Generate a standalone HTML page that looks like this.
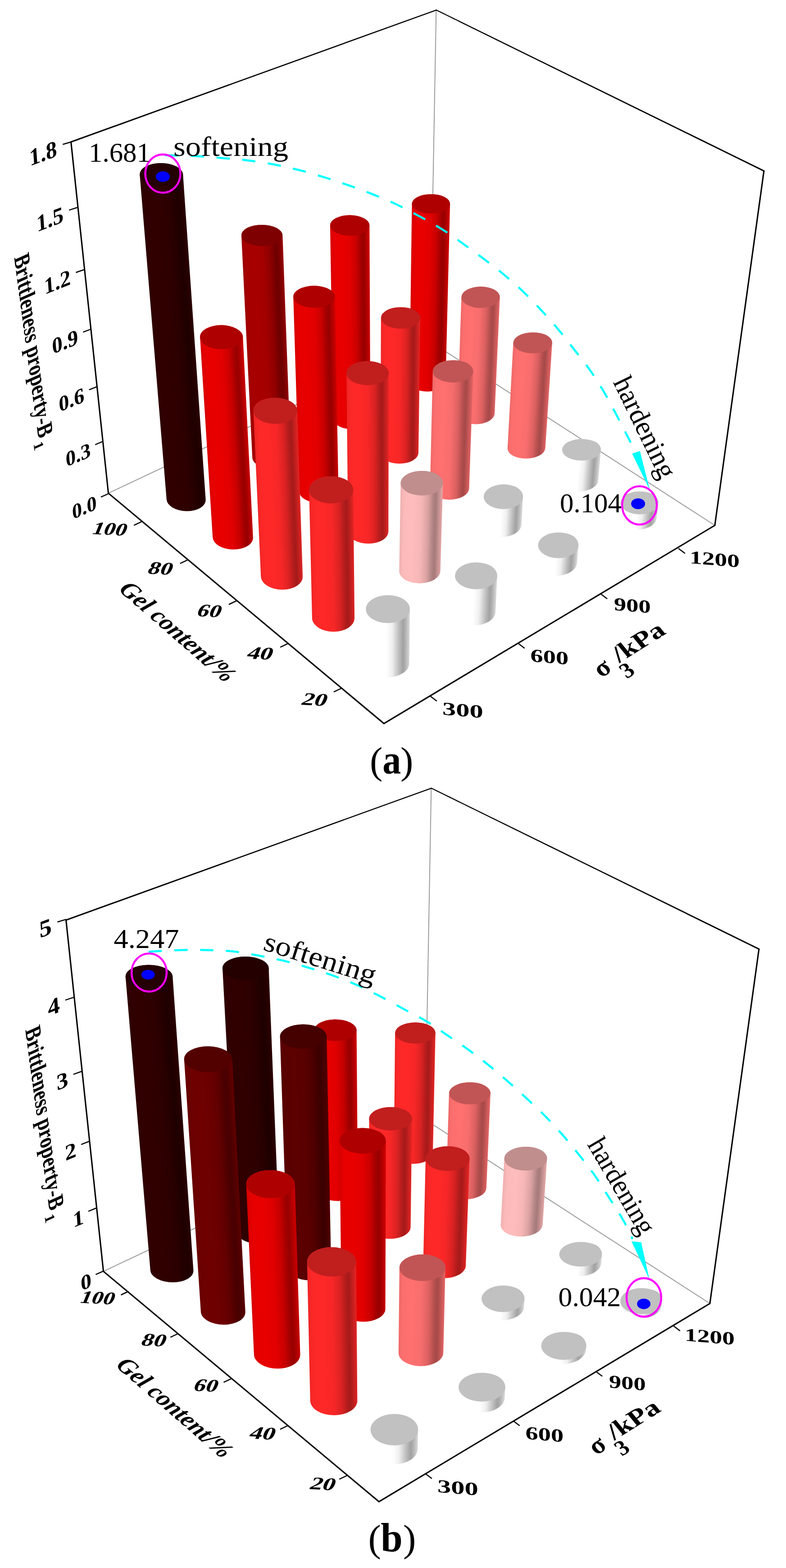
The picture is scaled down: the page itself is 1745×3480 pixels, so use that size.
<!DOCTYPE html>
<html lang="en"><head><meta charset="utf-8"><title>Brittleness property B1</title>
<style>
html,body{margin:0;padding:0;background:#fff;}
body{width:1745px;height:3480px;overflow:hidden;font-family:"Liberation Serif",serif;}
svg{display:block;filter:blur(0.7px);}
</style></head><body>
<svg width="1745" height="3480" viewBox="0 0 1745 3480" font-family="'Liberation Serif', serif" fill="#000">
<defs><linearGradient id="g_red" x1="0" y1="0" x2="1" y2="0"><stop offset="0" stop-color="#d80000"/><stop offset="0.1" stop-color="#e60000"/><stop offset="0.3" stop-color="#e80000"/><stop offset="0.5" stop-color="#e10000"/><stop offset="0.66" stop-color="#c80000"/><stop offset="0.78" stop-color="#a20000"/><stop offset="0.84" stop-color="#970000"/><stop offset="0.9" stop-color="#ac0000"/><stop offset="1" stop-color="#d10000"/></linearGradient>
<linearGradient id="g_pk" x1="0" y1="0" x2="1" y2="0"><stop offset="0" stop-color="#ed6868"/><stop offset="0.1" stop-color="#fc6f6f"/><stop offset="0.3" stop-color="#ff7070"/><stop offset="0.5" stop-color="#f76d6d"/><stop offset="0.66" stop-color="#db6060"/><stop offset="0.78" stop-color="#b24e4e"/><stop offset="0.84" stop-color="#a64949"/><stop offset="0.9" stop-color="#bd5353"/><stop offset="1" stop-color="#e66565"/></linearGradient>
<linearGradient id="g_dr" x1="0" y1="0" x2="1" y2="0"><stop offset="0" stop-color="#9c0000"/><stop offset="0.1" stop-color="#a60000"/><stop offset="0.3" stop-color="#a80000"/><stop offset="0.5" stop-color="#a30000"/><stop offset="0.66" stop-color="#900000"/><stop offset="0.78" stop-color="#760000"/><stop offset="0.84" stop-color="#6d0000"/><stop offset="0.9" stop-color="#7c0000"/><stop offset="1" stop-color="#970000"/></linearGradient>
<linearGradient id="g_lr" x1="0" y1="0" x2="1" y2="0"><stop offset="0" stop-color="#ed2525"/><stop offset="0.1" stop-color="#fc2828"/><stop offset="0.3" stop-color="#ff2828"/><stop offset="0.5" stop-color="#f72727"/><stop offset="0.66" stop-color="#db2222"/><stop offset="0.78" stop-color="#b21c1c"/><stop offset="0.84" stop-color="#a61a1a"/><stop offset="0.9" stop-color="#bd1e1e"/><stop offset="1" stop-color="#e62424"/></linearGradient>
<linearGradient id="g_wh" x1="0" y1="0" x2="1" y2="0"><stop offset="0" stop-color="#ffffff"/><stop offset="0.46" stop-color="#ffffff"/><stop offset="0.6" stop-color="#f0f0f0"/><stop offset="0.74" stop-color="#c2c2c2"/><stop offset="0.85" stop-color="#a1a1a1"/><stop offset="0.92" stop-color="#b8b8b8"/><stop offset="1" stop-color="#dbdbdb"/></linearGradient>
<linearGradient id="g_blk" x1="0" y1="0" x2="1" y2="0"><stop offset="0" stop-color="#2d0000"/><stop offset="0.1" stop-color="#300000"/><stop offset="0.3" stop-color="#300000"/><stop offset="0.5" stop-color="#2f0000"/><stop offset="0.66" stop-color="#290000"/><stop offset="0.78" stop-color="#220000"/><stop offset="0.84" stop-color="#1f0000"/><stop offset="0.9" stop-color="#240000"/><stop offset="1" stop-color="#2b0000"/></linearGradient>
<linearGradient id="g_lp" x1="0" y1="0" x2="1" y2="0"><stop offset="0" stop-color="#edafaf"/><stop offset="0.1" stop-color="#fcbaba"/><stop offset="0.3" stop-color="#ffbcbc"/><stop offset="0.5" stop-color="#f7b6b6"/><stop offset="0.66" stop-color="#dba2a2"/><stop offset="0.78" stop-color="#b28484"/><stop offset="0.84" stop-color="#a67a7a"/><stop offset="0.9" stop-color="#bd8b8b"/><stop offset="1" stop-color="#e6a9a9"/></linearGradient>
<linearGradient id="g_dk2" x1="0" y1="0" x2="1" y2="0"><stop offset="0" stop-color="#560000"/><stop offset="0.1" stop-color="#5b0000"/><stop offset="0.3" stop-color="#5c0000"/><stop offset="0.5" stop-color="#590000"/><stop offset="0.66" stop-color="#4f0000"/><stop offset="0.78" stop-color="#400000"/><stop offset="0.84" stop-color="#3c0000"/><stop offset="0.9" stop-color="#440000"/><stop offset="1" stop-color="#530000"/></linearGradient>
<linearGradient id="g_dk1" x1="0" y1="0" x2="1" y2="0"><stop offset="0" stop-color="#660000"/><stop offset="0.1" stop-color="#6d0000"/><stop offset="0.3" stop-color="#6e0000"/><stop offset="0.5" stop-color="#6b0000"/><stop offset="0.66" stop-color="#5f0000"/><stop offset="0.78" stop-color="#4d0000"/><stop offset="0.84" stop-color="#480000"/><stop offset="0.9" stop-color="#510000"/><stop offset="1" stop-color="#630000"/></linearGradient></defs>
<line x1="968.4" y1="22.3" x2="955.0" y2="758.0" stroke="#969696" stroke-width="1.9" stroke-linecap="butt"/>
<line x1="240.6" y1="1094.6" x2="955.0" y2="758.0" stroke="#969696" stroke-width="1.9" stroke-linecap="butt"/>
<line x1="955.0" y1="758.0" x2="1587.0" y2="1166.0" stroke="#969696" stroke-width="1.9" stroke-linecap="butt"/>
<path transform="matrix(1 0 -0.01931 1 8.74 0)" d="M914.5 452.5 L916.7 847.4 A40.1 21.6 0 0 0 996.9 847.4 L999.1 452.5 A42.3 21.6 0 0 0 914.5 452.5 Z" fill="url(#g_red)"/>
<ellipse cx="956.8" cy="452.5" rx="42.3" ry="21.6" fill="#af0000"/>
<path transform="matrix(1 0 0.01057 1 -5.29 0)" d="M732.9 500.3 L735.4 929.8 A41.2 22.8 0 0 0 817.8 929.8 L820.3 500.3 A43.7 22.8 0 0 0 732.9 500.3 Z" fill="url(#g_red)"/>
<ellipse cx="776.6" cy="500.3" rx="43.7" ry="22.8" fill="#af0000"/>
<path transform="matrix(1 0 -0.03887 1 25.65 0)" d="M1024.3 659.8 L1025.8 917.8 A41.2 23.7 0 0 0 1108.2 917.8 L1109.7 659.8 A42.7 23.7 0 0 0 1024.3 659.8 Z" fill="url(#g_pk)"/>
<ellipse cx="1067.0" cy="659.8" rx="42.7" ry="23.7" fill="#c15555"/>
<path transform="matrix(1 0 0.04323 1 -22.59 0)" d="M535.9 522.6 L538.9 1016.3 A42.7 23.7 0 0 0 624.3 1016.3 L627.3 522.6 A45.7 23.7 0 0 0 535.9 522.6 Z" fill="url(#g_dr)"/>
<ellipse cx="581.6" cy="522.6" rx="45.7" ry="23.7" fill="#7f0000"/>
<path transform="matrix(1 0 -0.05971 1 45.44 0)" d="M1139.5 761.0 L1140.8 994.6 A41.9 23.2 0 0 0 1224.6 994.6 L1225.9 761.0 A43.2 23.2 0 0 0 1139.5 761.0 Z" fill="url(#g_pk)"/>
<ellipse cx="1182.7" cy="761.0" rx="43.2" ry="23.2" fill="#c15555"/>
<path transform="matrix(1 0 -0.00854 1 6.03 0)" d="M845.8 705.6 L847.5 1005.1 A42.0 23.9 0 0 0 931.5 1005.1 L933.2 705.6 A43.7 23.9 0 0 0 845.8 705.6 Z" fill="url(#g_lr)"/>
<ellipse cx="889.5" cy="705.6" rx="43.7" ry="23.9" fill="#c11e1e"/>
<path transform="matrix(1 0 -0.08197 1 81.84 0)" d="M1248.0 998.3 L1248.4 1067.0 A42.6 24.0 0 0 0 1333.6 1067.0 L1334.0 998.3 A43.0 24.0 0 0 0 1248.0 998.3 Z" fill="url(#g_wh)"/>
<ellipse cx="1291.0" cy="998.3" rx="43.0" ry="24.0" fill="#c1c1c1"/>
<path transform="matrix(1 0 0.02441 1 -16.08 0)" d="M651.2 658.7 L653.9 1091.6 A43.5 24.4 0 0 0 740.9 1091.6 L743.6 658.7 A46.2 24.4 0 0 0 651.2 658.7 Z" fill="url(#g_red)"/>
<ellipse cx="697.4" cy="658.7" rx="46.2" ry="24.4" fill="#af0000"/>
<path transform="matrix(1 0 -0.02919 1 24.06 0)" d="M960.7 824.2 L962.3 1084.2 A43.4 24.8 0 0 0 1049.1 1084.2 L1050.7 824.2 A45.0 24.8 0 0 0 960.7 824.2 Z" fill="url(#g_pk)"/>
<ellipse cx="1005.7" cy="824.2" rx="45.0" ry="24.8" fill="#c15555"/>
<path transform="matrix(1 0 0.07620 1 -29.56 0)" d="M310.3 388.0 L314.9 1108.5 A43.4 26.0 0 0 0 401.7 1108.5 L406.3 388.0 A48.0 26.0 0 0 0 310.3 388.0 Z" fill="url(#g_blk)"/>
<ellipse cx="358.3" cy="388.0" rx="48.0" ry="26.0" fill="#240000"/>
<path transform="matrix(1 0 -0.10767 1 120.16 0)" d="M1377.7 1116.0 L1377.9 1150.5 A41.8 25.5 0 0 0 1461.5 1150.5 L1461.7 1116.0 A42.0 25.5 0 0 0 1377.7 1116.0 Z" fill="url(#g_wh)"/>
<ellipse cx="1419.7" cy="1116.0" rx="42.0" ry="25.5" fill="#c1c1c1"/>
<path transform="matrix(1 0 0.00421 1 -3.49 0)" d="M769.2 828.2 L771.4 1179.8 A44.7 26.7 0 0 0 860.8 1179.8 L863.0 828.2 A46.9 26.7 0 0 0 769.2 828.2 Z" fill="url(#g_lr)"/>
<ellipse cx="816.1" cy="828.2" rx="46.9" ry="26.7" fill="#c11e1e"/>
<path transform="matrix(1 0 -0.05141 1 56.68 0)" d="M1073.8 1102.5 L1074.2 1164.6 A43.3 27.4 0 0 0 1160.8 1164.6 L1161.2 1102.5 A43.7 27.4 0 0 0 1073.8 1102.5 Z" fill="url(#g_wh)"/>
<ellipse cx="1117.5" cy="1102.5" rx="43.7" ry="27.4" fill="#c1c1c1"/>
<path transform="matrix(1 0 0.05692 1 -42.59 0)" d="M444.1 748.3 L446.9 1192.8 A44.8 26.7 0 0 0 536.5 1192.8 L539.3 748.3 A47.6 26.7 0 0 0 444.1 748.3 Z" fill="url(#g_red)"/>
<ellipse cx="491.7" cy="748.3" rx="47.6" ry="26.7" fill="#af0000"/>
<path transform="matrix(1 0 -0.02256 1 24.20 0)" d="M889.5 1072.3 L890.7 1267.3 A45.7 27.4 0 0 0 982.1 1267.3 L983.3 1072.3 A46.9 27.4 0 0 0 889.5 1072.3 Z" fill="url(#g_lp)"/>
<ellipse cx="936.4" cy="1072.3" rx="46.9" ry="27.4" fill="#c18e8e"/>
<path transform="matrix(1 0 -0.07550 1 91.37 0)" d="M1194.6 1210.2 L1194.8 1249.5 A44.6 28.5 0 0 0 1284.0 1249.5 L1284.2 1210.2 A44.8 28.5 0 0 0 1194.6 1210.2 Z" fill="url(#g_wh)"/>
<ellipse cx="1239.4" cy="1210.2" rx="44.8" ry="28.5" fill="#c1c1c1"/>
<path transform="matrix(1 0 0.03887 1 -35.44 0)" d="M562.5 911.8 L564.9 1279.7 A46.4 29.0 0 0 0 657.7 1279.7 L660.1 911.8 A48.8 29.0 0 0 0 562.5 911.8 Z" fill="url(#g_lr)"/>
<ellipse cx="611.3" cy="911.8" rx="48.8" ry="29.0" fill="#c11e1e"/>
<path transform="matrix(1 0 -0.04155 1 53.11 0)" d="M1010.1 1278.0 L1010.6 1358.3 A46.4 29.7 0 0 0 1103.4 1358.3 L1103.9 1278.0 A46.9 29.7 0 0 0 1010.1 1278.0 Z" fill="url(#g_wh)"/>
<ellipse cx="1057.0" cy="1278.0" rx="46.9" ry="29.7" fill="#c1c1c1"/>
<path transform="matrix(1 0 0.01687 1 -18.34 0)" d="M686.2 1087.2 L688.1 1371.8 A47.1 30.2 0 0 0 782.3 1371.8 L784.2 1087.2 A49.0 30.2 0 0 0 686.2 1087.2 Z" fill="url(#g_lr)"/>
<ellipse cx="735.2" cy="1087.2" rx="49.0" ry="30.2" fill="#c11e1e"/>
<path transform="matrix(1 0 -0.00410 1 5.54 0)" d="M812.3 1351.9 L813.1 1472.1 A48.0 30.9 0 0 0 909.1 1472.1 L909.9 1351.9 A48.8 30.9 0 0 0 812.3 1351.9 Z" fill="url(#g_wh)"/>
<ellipse cx="861.1" cy="1351.9" rx="48.8" ry="30.9" fill="#c1c1c1"/>
<polygon points="158.13,316.46 968.99,23.38 968.21,21.22 157.07,313.54" fill="#000"/>
<circle cx="968.60" cy="22.30" r="1.15" fill="#000"/>
<polygon points="968.09,23.33 1695.32,380.69 1696.68,377.91 969.11,21.27" fill="#000"/>
<circle cx="1696.00" cy="379.30" r="1.55" fill="#000"/>
<polygon points="1694.46,379.09 1585.46,1165.79 1588.54,1166.21 1697.54,379.51" fill="#000"/>
<circle cx="1587.00" cy="1166.00" r="1.55" fill="#000"/>
<polygon points="1586.20,1164.67 851.48,1604.43 853.12,1607.17 1587.80,1167.33" fill="#000"/>
<circle cx="852.30" cy="1605.80" r="1.60" fill="#000"/>
<polygon points="853.33,1604.57 241.59,1093.41 239.61,1095.79 851.27,1607.03" fill="#000"/>
<circle cx="240.60" cy="1094.60" r="1.55" fill="#000"/>
<polygon points="242.14,1094.44 159.14,314.84 156.06,315.16 239.06,1094.76" fill="#000"/>
<circle cx="157.60" cy="315.00" r="1.55" fill="#000"/>
<line x1="158.8" y1="314.7" x2="139.3" y2="320.5" stroke="#000" stroke-width="2.5" stroke-linecap="butt"/>
<text transform="matrix(0.9367 -0.3502 0.0700 1.0000 66.4 368.8)" font-size="52" font-weight="bold" font-style="normal" text-anchor="start" textLength="65" lengthAdjust="spacingAndGlyphs">1.8</text>
<line x1="172.4" y1="460.2" x2="153.3" y2="466.4" stroke="#000" stroke-width="2.5" stroke-linecap="butt"/>
<text transform="matrix(0.9332 -0.3593 0.0700 1.0000 82.2 515.0)" font-size="50.8818" font-weight="bold" font-style="normal" text-anchor="start" textLength="64" lengthAdjust="spacingAndGlyphs">1.5</text>
<line x1="187.3" y1="598.3" x2="168.5" y2="604.8" stroke="#000" stroke-width="2.5" stroke-linecap="butt"/>
<text transform="matrix(0.9298 -0.3680 0.0700 1.0000 99.2 653.8)" font-size="49.8204" font-weight="bold" font-style="normal" text-anchor="start" textLength="63" lengthAdjust="spacingAndGlyphs">1.2</text>
<line x1="202.8" y1="730.2" x2="184.4" y2="737.1" stroke="#000" stroke-width="2.5" stroke-linecap="butt"/>
<text transform="matrix(0.9266 -0.3762 0.0700 1.0000 116.7 786.3)" font-size="48.8067" font-weight="bold" font-style="normal" text-anchor="start" textLength="62" lengthAdjust="spacingAndGlyphs">0.9</text>
<line x1="215.8" y1="858.0" x2="197.7" y2="865.2" stroke="#000" stroke-width="2.5" stroke-linecap="butt"/>
<text transform="matrix(0.9233 -0.3841 0.0700 1.0000 131.7 914.7)" font-size="47.8245" font-weight="bold" font-style="normal" text-anchor="start" textLength="61" lengthAdjust="spacingAndGlyphs">0.6</text>
<line x1="229.1" y1="979.4" x2="211.3" y2="986.9" stroke="#000" stroke-width="2.5" stroke-linecap="butt"/>
<text transform="matrix(0.9201 -0.3916 0.0700 1.0000 147.0 1036.6)" font-size="46.8915" font-weight="bold" font-style="normal" text-anchor="start" textLength="60" lengthAdjust="spacingAndGlyphs">0.3</text>
<line x1="241.5" y1="1095.4" x2="224.0" y2="1103.2" stroke="#000" stroke-width="2.5" stroke-linecap="butt"/>
<text transform="matrix(0.9171 -0.3987 0.0700 1.0000 161.3 1153.0)" font-size="46" font-weight="bold" font-style="normal" text-anchor="start" textLength="59" lengthAdjust="spacingAndGlyphs">0.0</text>
<line x1="314.2" y1="1157.9" x2="297.2" y2="1165.9" stroke="#000" stroke-width="2.5" stroke-linecap="butt"/>
<line x1="416.7" y1="1242.6" x2="399.7" y2="1250.6" stroke="#000" stroke-width="2.5" stroke-linecap="butt"/>
<line x1="525.0" y1="1333.5" x2="508.0" y2="1341.5" stroke="#000" stroke-width="2.5" stroke-linecap="butt"/>
<line x1="639.2" y1="1428.3" x2="622.2" y2="1436.3" stroke="#000" stroke-width="2.5" stroke-linecap="butt"/>
<line x1="757.9" y1="1527.6" x2="740.9" y2="1535.6" stroke="#000" stroke-width="2.5" stroke-linecap="butt"/>
<text transform="matrix(0.9986 0.0523 -0.4019 0.9803 201.5 1185.0)" font-size="40" font-weight="bold" font-style="normal" text-anchor="start" textLength="76" lengthAdjust="spacingAndGlyphs">100</text>
<text transform="matrix(0.9986 0.0523 -0.4019 0.9803 325.0 1273.0)" font-size="40" font-weight="bold" font-style="normal" text-anchor="start" textLength="54" lengthAdjust="spacingAndGlyphs">80</text>
<text transform="matrix(0.9986 0.0523 -0.4019 0.9803 434.3 1367.3)" font-size="40" font-weight="bold" font-style="normal" text-anchor="start" textLength="53" lengthAdjust="spacingAndGlyphs">60</text>
<text transform="matrix(0.9986 0.0523 -0.4019 0.9803 545.4 1461.4)" font-size="40" font-weight="bold" font-style="normal" text-anchor="start" textLength="56" lengthAdjust="spacingAndGlyphs">40</text>
<text transform="matrix(0.9986 0.0523 -0.4019 0.9803 666.0 1564.0)" font-size="40" font-weight="bold" font-style="normal" text-anchor="start" textLength="56" lengthAdjust="spacingAndGlyphs">20</text>
<line x1="955.3" y1="1545.0" x2="969.8" y2="1556.0" stroke="#000" stroke-width="2.5" stroke-linecap="butt"/>
<line x1="1150.2" y1="1427.7" x2="1164.7" y2="1438.7" stroke="#000" stroke-width="2.5" stroke-linecap="butt"/>
<line x1="1333.6" y1="1318.1" x2="1348.1" y2="1329.1" stroke="#000" stroke-width="2.5" stroke-linecap="butt"/>
<line x1="1506.3" y1="1217.3" x2="1520.8" y2="1228.3" stroke="#000" stroke-width="2.5" stroke-linecap="butt"/>
<text transform="matrix(0.9965 0.0830 0.0000 1.0000 982.0 1586.0)" font-size="41" font-weight="bold" font-style="normal" text-anchor="start" textLength="91" lengthAdjust="spacingAndGlyphs">300</text>
<text transform="matrix(0.9965 0.0830 0.0000 1.0000 1177.5 1468.0)" font-size="41" font-weight="bold" font-style="normal" text-anchor="start" textLength="85" lengthAdjust="spacingAndGlyphs">600</text>
<text transform="matrix(0.9965 0.0830 0.0000 1.0000 1363.0 1354.0)" font-size="41" font-weight="bold" font-style="normal" text-anchor="start" textLength="82" lengthAdjust="spacingAndGlyphs">900</text>
<text transform="matrix(0.9965 0.0830 0.0000 1.0000 1531.0 1250.0)" font-size="41" font-weight="bold" font-style="normal" text-anchor="start" textLength="111.5" lengthAdjust="spacingAndGlyphs">1200</text>
<text transform="matrix(0.1322 0.9912 -0.8900 0.3970 31.6 572.2)" font-weight="bold" font-style="normal"><tspan x="0.0" y="0.0" font-size="55" textLength="407" lengthAdjust="spacingAndGlyphs">Brittleness property-B</tspan><tspan x="411.8" y="13.0" font-size="34">1</tspan></text>
<text transform="matrix(0.7270 0.6310 -0.7500 0.6100 261.5 1309.5)" font-size="56" font-weight="bold" font-style="italic" text-anchor="start" textLength="328" lengthAdjust="spacingAndGlyphs">Gel content/%</text>
<text transform="matrix(0.8480 -0.5300 0.6400 0.7800 1375.0 1471.5)" font-weight="bold" font-style="normal"><tspan x="-52.6" y="7.2" font-size="58">σ</tspan><tspan x="-9.9" y="38.9" font-size="50">3</tspan><tspan x="0.0" y="0.0" font-size="54" textLength="125" lengthAdjust="spacingAndGlyphs">/kPa</tspan></text>
<polyline points="366.5,344.8 367.1,344.8 367.6,344.8 368.1,344.8 368.6,344.8 369.3,344.8 370.1,344.8 371.1,344.8 372.4,344.8 374.0,344.8 375.9,344.9 378.2,344.9 381.0,345.0 384.3,345.1 388.2,345.2 392.5,345.2 397.1,345.3 402.1,345.4 407.3,345.5 412.7,345.7 418.1,345.8 423.6,346.0 428.9,346.2 434.1,346.4 439.0,346.6 443.8,346.9 448.6,347.2 453.4,347.5 458.2,347.8 463.0,348.2 467.8,348.6 472.5,349.0 477.3,349.4 482.0,349.8 486.7,350.2 491.4,350.6 496.0,351.0 500.6,351.4 505.1,351.8 509.6,352.1 514.1,352.5 518.5,352.8 522.9,353.2 527.4,353.6 531.8,354.0 536.3,354.5 540.8,354.9 545.4,355.4 550.0,356.0 554.7,356.6 559.4,357.2 564.2,357.9 569.1,358.6 573.9,359.3 578.8,360.0 583.7,360.8 588.6,361.6 593.5,362.4 598.3,363.2 603.2,364.1 608.0,365.0 612.8,365.9 617.6,366.9 622.4,367.8 627.1,368.8 631.9,369.9 636.7,370.9 641.4,372.0 646.2,373.1 650.9,374.2 655.6,375.4 660.3,376.5 665.0,377.7 669.7,378.9 674.3,380.1 678.9,381.4 683.4,382.6 688.0,383.9 692.6,385.2 697.1,386.6 701.7,387.9 706.2,389.3 710.8,390.7 715.4,392.1 720.0,393.5 724.6,394.9 729.3,396.4 734.0,397.9 738.6,399.4 743.3,400.9 748.0,402.5 752.7,404.0 757.4,405.6 762.1,407.2 766.7,408.8 771.4,410.4 776.0,412.0 780.6,413.6 785.2,415.3 789.8,416.9 794.5,418.6 799.1,420.3 803.6,422.0 808.2,423.8 812.8,425.5 817.3,427.2 821.8,429.0 826.3,430.7 830.7,432.5 835.1,434.3 839.5,436.0 843.8,437.8 848.1,439.6 852.3,441.3 856.6,443.1 860.8,444.9 865.0,446.8 869.3,448.6 873.5,450.6 877.7,452.5 882.0,454.5 886.3,456.5 890.5,458.6 894.8,460.7 899.0,462.9 903.3,465.1 907.5,467.3 911.8,469.5 916.0,471.8 920.3,474.1 924.5,476.4 928.8,478.7 933.0,481.0 937.3,483.3 941.5,485.7 945.8,488.1 950.1,490.5 954.5,492.9 958.8,495.4 963.0,497.8 967.3,500.3 971.5,502.8 975.7,505.4 979.9,507.9 984.0,510.5 988.1,513.1 992.1,515.7 996.1,518.4 1000.0,521.1 1003.9,523.8 1007.8,526.5 1011.7,529.2 1015.6,532.0 1019.4,534.7 1023.3,537.5 1027.1,540.2 1031.0,543.0 1034.9,545.8 1038.7,548.5 1042.6,551.3 1046.4,554.1 1050.2,556.9 1054.0,559.7 1057.8,562.5 1061.6,565.3 1065.4,568.1 1069.1,570.9 1072.9,573.7 1076.6,576.5 1080.3,579.3 1084.0,582.1 1087.6,584.9 1091.3,587.7 1094.9,590.5 1098.5,593.3 1102.1,596.1 1105.7,598.9 1109.3,601.8 1112.9,604.6 1116.4,607.6 1120.0,610.5 1123.6,613.5 1127.1,616.5 1130.6,619.5 1134.2,622.5 1137.7,625.5 1141.2,628.6 1144.7,631.7 1148.1,634.8 1151.6,638.0 1155.1,641.2 1158.5,644.4 1162.0,647.7 1165.4,651.0 1168.9,654.4 1172.4,657.8 1175.8,661.3 1179.2,664.8 1182.7,668.4 1186.1,671.9 1189.5,675.5 1192.8,679.0 1196.2,682.6 1199.4,686.1 1202.7,689.6 1205.9,693.1 1209.1,696.5 1212.2,700.0 1215.4,703.5 1218.4,706.9 1221.5,710.4 1224.6,713.8 1227.6,717.3 1230.6,720.8 1233.6,724.3 1236.6,727.8 1239.6,731.4 1242.6,735.0 1245.5,738.6 1248.5,742.2 1251.4,745.9 1254.3,749.5 1257.2,753.2 1260.1,756.9 1262.9,760.6 1265.8,764.3 1268.7,768.0 1271.6,771.8 1274.5,775.5 1277.4,779.2 1280.4,783.0 1283.4,786.8 1286.3,790.5 1289.3,794.3 1292.3,798.1 1295.3,801.9 1298.2,805.7 1301.1,809.5 1304.0,813.3 1306.8,817.2 1309.5,821.0 1312.2,824.8 1314.8,828.7 1317.4,832.5 1320.0,836.3 1322.5,840.2 1325.0,844.0 1327.5,847.9 1329.9,851.7 1332.3,855.6 1334.7,859.6 1337.1,863.5 1339.5,867.5 1341.9,871.5 1344.2,875.6 1346.5,879.7 1348.8,883.8 1351.1,887.9 1353.3,892.1 1355.6,896.2 1357.8,900.4 1360.0,904.5 1362.2,908.7 1364.4,912.9 1366.6,917.0 1368.8,921.2 1371.2,925.7 1373.5,930.2 1375.9,934.8 1378.3,939.4 1380.7,943.9 1382.9,948.4 1385.1,952.6 1387.2,956.6 1389.1,960.3 1390.8,963.7 1392.3,966.6 1393.6,969.1 1394.7,971.3 1395.7,973.2 1396.5,974.8 1397.2,976.2 1397.8,977.4 1398.2,978.4 1398.7,979.3 1399.0,980.0 1399.4,980.7 1399.7,981.4 1400.0,982.0" fill="none" stroke="#00ffff" stroke-width="4.6" stroke-dasharray="29.5 27.7" stroke-dashoffset="0"/>
<polygon points="1403.3,1006.7 1420.7,1000.9 1442.8,1088" fill="#00ffff"/>
<ellipse cx="361.5" cy="385.3" rx="39" ry="42.5" fill="none" stroke="#ff00ff" stroke-width="4.4"/>
<ellipse cx="361.6" cy="392" rx="15.5" ry="11.8" fill="#0000ff"/>
<ellipse cx="1419.7" cy="1121.6" rx="38.5" ry="42.5" fill="none" stroke="#ff00ff" stroke-width="4.4"/>
<ellipse cx="1416.7" cy="1118" rx="15.5" ry="12" fill="#0000ff"/>
<text transform="matrix(1.0000 0.0000 0.0000 1.0000 197.0 358.5)" font-size="62" font-weight="normal" font-style="normal" text-anchor="start" textLength="137" lengthAdjust="spacingAndGlyphs">1.681</text>
<text transform="matrix(1.0000 0.0000 0.0000 1.0000 385.0 345.5)" font-size="62" font-weight="normal" font-style="normal" text-anchor="start" textLength="255" lengthAdjust="spacingAndGlyphs">softening</text>
<text transform="matrix(1.0000 0.0000 0.0000 1.0000 1243.0 1137.0)" font-size="62" font-weight="normal" font-style="normal" text-anchor="start" textLength="137" lengthAdjust="spacingAndGlyphs">0.104</text>
<text transform="matrix(0.4384 0.8988 -0.8988 0.4384 1360.4 848.0)" font-size="62" font-weight="normal" font-style="normal" text-anchor="start" textLength="243" lengthAdjust="spacingAndGlyphs">hardening</text>
<text transform="matrix(1.0000 0.0000 0.0000 1.0000 0.0 0.0)" font-weight="normal" font-style="normal"><tspan x="821.0" y="1717.0" font-size="85.3" font-weight="normal">(</tspan><tspan x="849.2" y="1717.4" font-size="91" font-weight="bold" textLength="41" lengthAdjust="spacingAndGlyphs">a</tspan><tspan x="889.0" y="1717.0" font-size="85.3" font-weight="normal">)</tspan></text>
<line x1="957.4" y1="1749.3" x2="944.0" y2="2485.0" stroke="#969696" stroke-width="1.9" stroke-linecap="butt"/>
<line x1="229.6" y1="2821.6" x2="944.0" y2="2485.0" stroke="#969696" stroke-width="1.9" stroke-linecap="butt"/>
<line x1="944.0" y1="2485.0" x2="1576.0" y2="2893.0" stroke="#969696" stroke-width="1.9" stroke-linecap="butt"/>
<path transform="matrix(1 0 -0.01565 1 35.89 0)" d="M877.1 2292.7 L878.7 2559.5 A43.2 23.5 0 0 0 965.1 2559.5 L966.7 2292.7 A44.8 23.5 0 0 0 877.1 2292.7 Z" fill="url(#g_lr)"/>
<ellipse cx="921.9" cy="2292.7" rx="44.8" ry="23.5" fill="#c11e1e"/>
<path transform="matrix(1 0 0.01421 1 -32.49 0)" d="M697.6 2286.5 L699.8 2641.6 A44.8 24.0 0 0 0 789.4 2641.6 L791.6 2286.5 A47.0 24.0 0 0 0 697.6 2286.5 Z" fill="url(#g_red)"/>
<ellipse cx="744.6" cy="2286.5" rx="47.0" ry="24.0" fill="#af0000"/>
<path transform="matrix(1 0 -0.03688 1 89.48 0)" d="M996.9 2426.5 L998.2 2637.0 A44.7 24.5 0 0 0 1087.6 2637.0 L1088.9 2426.5 A46.0 24.5 0 0 0 996.9 2426.5 Z" fill="url(#g_pk)"/>
<ellipse cx="1042.9" cy="2426.5" rx="46.0" ry="24.5" fill="#c15555"/>
<path transform="matrix(1 0 0.04668 1 -100.31 0)" d="M494.0 2149.0 L498.0 2734.0 A47.3 26.0 0 0 0 592.6 2734.0 L596.6 2149.0 A51.3 26.0 0 0 0 494.0 2149.0 Z" fill="url(#g_blk)"/>
<ellipse cx="545.3" cy="2149.0" rx="51.3" ry="26.0" fill="#240000"/>
<path transform="matrix(1 0 -0.05976 1 153.69 0)" d="M1119.6 2571.5 L1120.5 2718.1 A46.5 26.5 0 0 0 1213.5 2718.1 L1214.4 2571.5 A47.4 26.5 0 0 0 1119.6 2571.5 Z" fill="url(#g_lp)"/>
<ellipse cx="1167.0" cy="2571.5" rx="47.4" ry="26.5" fill="#c18e8e"/>
<path transform="matrix(1 0 -0.00663 1 16.47 0)" d="M819.5 2483.0 L821.0 2723.5 A46.1 26.0 0 0 0 913.2 2723.5 L914.7 2483.0 A47.6 26.0 0 0 0 819.5 2483.0 Z" fill="url(#g_lr)"/>
<ellipse cx="867.1" cy="2483.0" rx="47.6" ry="26.0" fill="#c11e1e"/>
<path transform="matrix(1 0 -0.08451 1 235.24 0)" d="M1241.6 2783.7 L1241.7 2805.1 A47.3 27.4 0 0 0 1336.3 2805.1 L1336.4 2783.7 A47.4 27.4 0 0 0 1241.6 2783.7 Z" fill="url(#g_wh)"/>
<ellipse cx="1289.0" cy="2783.7" rx="47.4" ry="27.4" fill="#c1c1c1"/>
<path transform="matrix(1 0 0.02624 1 -60.36 0)" d="M621.7 2300.5 L625.3 2814.5 A48.2 27.0 0 0 0 721.7 2814.5 L725.3 2300.5 A51.8 27.0 0 0 0 621.7 2300.5 Z" fill="url(#g_dk2)"/>
<ellipse cx="673.5" cy="2300.5" rx="51.8" ry="27.0" fill="#450000"/>
<path transform="matrix(1 0 -0.02912 1 74.88 0)" d="M944.9 2571.4 L946.4 2809.3 A47.3 27.5 0 0 0 1041.0 2809.3 L1042.5 2571.4 A48.8 27.5 0 0 0 944.9 2571.4 Z" fill="url(#g_lr)"/>
<ellipse cx="993.7" cy="2571.4" rx="48.8" ry="27.5" fill="#c11e1e"/>
<path transform="matrix(1 0 0.07767 1 -168.38 0)" d="M278.7 2168.0 L283.2 2819.5 A47.8 26.5 0 0 0 378.8 2819.5 L383.3 2168.0 A52.3 26.5 0 0 0 278.7 2168.0 Z" fill="url(#g_blk)"/>
<ellipse cx="331.0" cy="2168.0" rx="52.3" ry="26.5" fill="#240000"/>
<path transform="matrix(1 0 -0.11136 1 321.60 0)" d="M1377.2 2887.8 L1377.3 2898.0 A46.3 29.0 0 0 0 1469.9 2898.0 L1470.0 2887.8 A46.4 29.0 0 0 0 1377.2 2887.8 Z" fill="url(#g_wh)"/>
<ellipse cx="1423.6" cy="2887.8" rx="46.4" ry="29.0" fill="#c1c1c1"/>
<path transform="matrix(1 0 0.00416 1 -10.54 0)" d="M754.0 2532.0 L756.6 2904.9 A48.7 28.5 0 0 0 854.0 2904.9 L856.6 2532.0 A51.3 28.5 0 0 0 754.0 2532.0 Z" fill="url(#g_red)"/>
<ellipse cx="805.3" cy="2532.0" rx="51.3" ry="28.5" fill="#af0000"/>
<path transform="matrix(1 0 -0.05385 1 155.22 0)" d="M1069.2 2882.5 L1069.3 2901.0 A47.5 29.5 0 0 0 1164.3 2901.0 L1164.4 2882.5 A47.6 29.5 0 0 0 1069.2 2882.5 Z" fill="url(#g_wh)"/>
<ellipse cx="1116.8" cy="2882.5" rx="47.6" ry="29.5" fill="#c1c1c1"/>
<path transform="matrix(1 0 0.05903 1 -138.78 0)" d="M408.8 2350.8 L412.8 2911.5 A49.4 28.5 0 0 0 511.6 2911.5 L515.6 2350.8 A53.4 28.5 0 0 0 408.8 2350.8 Z" fill="url(#g_dk1)"/>
<ellipse cx="462.2" cy="2350.8" rx="53.4" ry="28.5" fill="#530000"/>
<path transform="matrix(1 0 -0.01747 1 49.15 0)" d="M886.8 2813.6 L888.1 3002.5 A49.7 29.5 0 0 0 987.5 3002.5 L988.8 2813.6 A51.0 29.5 0 0 0 886.8 2813.6 Z" fill="url(#g_pk)"/>
<ellipse cx="937.8" cy="2813.6" rx="51.0" ry="29.5" fill="#c15555"/>
<path transform="matrix(1 0 -0.08065 1 240.90 0)" d="M1201.6 2987.0 L1201.7 2996.5 A49.9 31.0 0 0 0 1301.5 2996.5 L1301.6 2987.0 A50.0 31.0 0 0 0 1201.6 2987.0 Z" fill="url(#g_wh)"/>
<ellipse cx="1251.6" cy="2987.0" rx="50.0" ry="31.0" fill="#c1c1c1"/>
<path transform="matrix(1 0 0.03857 1 -101.37 0)" d="M546.6 2628.0 L549.3 3006.5 A51.3 31.0 0 0 0 651.9 3006.5 L654.6 2628.0 A54.0 31.0 0 0 0 546.6 2628.0 Z" fill="url(#g_red)"/>
<ellipse cx="600.6" cy="2628.0" rx="54.0" ry="31.0" fill="#af0000"/>
<path transform="matrix(1 0 -0.04679 1 144.07 0)" d="M1018.1 3078.8 L1018.3 3103.0 A51.6 32.0 0 0 0 1121.5 3103.0 L1121.7 3078.8 A51.8 32.0 0 0 0 1018.1 3078.8 Z" fill="url(#g_wh)"/>
<ellipse cx="1069.9" cy="3078.8" rx="51.8" ry="32.0" fill="#c1c1c1"/>
<path transform="matrix(1 0 0.01559 1 -43.66 0)" d="M681.7 2800.6 L683.9 3108.5 A52.3 32.5 0 0 0 788.5 3108.5 L790.7 2800.6 A54.5 32.5 0 0 0 681.7 2800.6 Z" fill="url(#g_lr)"/>
<ellipse cx="736.2" cy="2800.6" rx="54.5" ry="32.5" fill="#c11e1e"/>
<path transform="matrix(1 0 -0.00918 1 29.13 0)" d="M822.6 3173.0 L822.9 3215.0 A52.5 35.0 0 0 0 927.9 3215.0 L928.2 3173.0 A52.8 35.0 0 0 0 822.6 3173.0 Z" fill="url(#g_wh)"/>
<ellipse cx="875.4" cy="3173.0" rx="52.8" ry="35.0" fill="#c1c1c1"/>
<polygon points="147.13,2043.46 957.99,1750.38 957.21,1748.22 146.07,2040.54" fill="#000"/>
<circle cx="957.60" cy="1749.30" r="1.15" fill="#000"/>
<polygon points="957.09,1750.33 1684.32,2107.69 1685.68,2104.91 958.11,1748.27" fill="#000"/>
<circle cx="1685.00" cy="2106.30" r="1.55" fill="#000"/>
<polygon points="1683.46,2106.09 1574.46,2892.79 1577.54,2893.21 1686.54,2106.51" fill="#000"/>
<circle cx="1576.00" cy="2893.00" r="1.55" fill="#000"/>
<polygon points="1575.20,2891.67 840.48,3331.43 842.12,3334.17 1576.80,2894.33" fill="#000"/>
<circle cx="841.30" cy="3332.80" r="1.60" fill="#000"/>
<polygon points="842.33,3331.57 230.59,2820.41 228.61,2822.79 840.27,3334.03" fill="#000"/>
<circle cx="229.60" cy="2821.60" r="1.55" fill="#000"/>
<polygon points="231.14,2821.44 148.14,2041.84 145.06,2042.16 228.06,2821.76" fill="#000"/>
<circle cx="146.60" cy="2042.00" r="1.55" fill="#000"/>
<line x1="147.0" y1="2040.4" x2="127.5" y2="2046.2" stroke="#000" stroke-width="2.5" stroke-linecap="butt"/>
<text transform="matrix(1.0491 -0.3921 0.0700 1.0000 115.5 2071.7)" font-size="52.01" font-weight="bold" font-style="normal" text-anchor="end">5</text>
<line x1="164.0" y1="2213.4" x2="144.9" y2="2219.6" stroke="#000" stroke-width="2.5" stroke-linecap="butt"/>
<text transform="matrix(1.0445 -0.4043 0.0700 1.0000 133.7 2245.3)" font-size="50.6804" font-weight="bold" font-style="normal" text-anchor="end">4</text>
<line x1="181.5" y1="2377.7" x2="162.9" y2="2384.4" stroke="#000" stroke-width="2.5" stroke-linecap="butt"/>
<text transform="matrix(1.0400 -0.4158 0.0700 1.0000 152.3 2410.2)" font-size="49.4177" font-weight="bold" font-style="normal" text-anchor="end">3</text>
<line x1="198.3" y1="2533.0" x2="180.1" y2="2540.1" stroke="#000" stroke-width="2.5" stroke-linecap="butt"/>
<text transform="matrix(1.0356 -0.4266 0.0700 1.0000 170.2 2566.1)" font-size="48.2242" font-weight="bold" font-style="normal" text-anchor="end">2</text>
<line x1="214.0" y1="2681.0" x2="196.1" y2="2688.4" stroke="#000" stroke-width="2.5" stroke-linecap="butt"/>
<text transform="matrix(1.0313 -0.4368 0.0700 1.0000 186.9 2714.6)" font-size="47.0867" font-weight="bold" font-style="normal" text-anchor="end">1</text>
<line x1="230.0" y1="2820.8" x2="212.5" y2="2828.6" stroke="#000" stroke-width="2.5" stroke-linecap="butt"/>
<text transform="matrix(1.0272 -0.4465 0.0700 1.0000 203.9 2854.9)" font-size="46.0123" font-weight="bold" font-style="normal" text-anchor="end">0</text>
<line x1="285.5" y1="2866.0" x2="268.5" y2="2874.0" stroke="#000" stroke-width="2.5" stroke-linecap="butt"/>
<line x1="395.3" y1="2959.8" x2="378.3" y2="2967.8" stroke="#000" stroke-width="2.5" stroke-linecap="butt"/>
<line x1="513.5" y1="3059.8" x2="496.5" y2="3067.8" stroke="#000" stroke-width="2.5" stroke-linecap="butt"/>
<line x1="638.9" y1="3164.2" x2="621.9" y2="3172.2" stroke="#000" stroke-width="2.5" stroke-linecap="butt"/>
<line x1="770.3" y1="3274.9" x2="753.3" y2="3282.9" stroke="#000" stroke-width="2.5" stroke-linecap="butt"/>
<text transform="matrix(0.9986 0.0523 -0.4019 0.9803 174.4 2891.3)" font-size="40" font-weight="bold" font-style="normal" text-anchor="start" textLength="76" lengthAdjust="spacingAndGlyphs">100</text>
<text transform="matrix(0.9986 0.0523 -0.4019 0.9803 310.6 2985.8)" font-size="40" font-weight="bold" font-style="normal" text-anchor="start" textLength="54" lengthAdjust="spacingAndGlyphs">80</text>
<text transform="matrix(0.9986 0.0523 -0.4019 0.9803 426.7 3086.4)" font-size="40" font-weight="bold" font-style="normal" text-anchor="start" textLength="53" lengthAdjust="spacingAndGlyphs">60</text>
<text transform="matrix(0.9986 0.0523 -0.4019 0.9803 550.7 3192.6)" font-size="40" font-weight="bold" font-style="normal" text-anchor="start" textLength="56" lengthAdjust="spacingAndGlyphs">40</text>
<text transform="matrix(0.9986 0.0523 -0.4019 0.9803 684.4 3304.8)" font-size="40" font-weight="bold" font-style="normal" text-anchor="start" textLength="56" lengthAdjust="spacingAndGlyphs">20</text>
<line x1="944.3" y1="3270.5" x2="958.8" y2="3281.5" stroke="#000" stroke-width="2.5" stroke-linecap="butt"/>
<line x1="1139.2" y1="3153.2" x2="1153.7" y2="3164.2" stroke="#000" stroke-width="2.5" stroke-linecap="butt"/>
<line x1="1322.6" y1="3043.6" x2="1337.1" y2="3054.6" stroke="#000" stroke-width="2.5" stroke-linecap="butt"/>
<line x1="1495.3" y1="2942.8" x2="1509.8" y2="2953.8" stroke="#000" stroke-width="2.5" stroke-linecap="butt"/>
<text transform="matrix(0.9965 0.0830 0.0000 1.0000 971.0 3311.5)" font-size="41" font-weight="bold" font-style="normal" text-anchor="start" textLength="91" lengthAdjust="spacingAndGlyphs">300</text>
<text transform="matrix(0.9965 0.0830 0.0000 1.0000 1166.5 3193.5)" font-size="41" font-weight="bold" font-style="normal" text-anchor="start" textLength="85" lengthAdjust="spacingAndGlyphs">600</text>
<text transform="matrix(0.9965 0.0830 0.0000 1.0000 1352.0 3079.5)" font-size="41" font-weight="bold" font-style="normal" text-anchor="start" textLength="82" lengthAdjust="spacingAndGlyphs">900</text>
<text transform="matrix(0.9965 0.0830 0.0000 1.0000 1520.0 2975.5)" font-size="41" font-weight="bold" font-style="normal" text-anchor="start" textLength="111.5" lengthAdjust="spacingAndGlyphs">1200</text>
<text transform="matrix(0.1322 0.9912 -0.8900 0.3970 56.3 2286.6)" font-weight="bold" font-style="normal"><tspan x="0.0" y="0.0" font-size="55" textLength="407" lengthAdjust="spacingAndGlyphs">Brittleness property-B</tspan><tspan x="411.8" y="13.0" font-size="34">1</tspan></text>
<text transform="matrix(0.7270 0.6310 -0.7500 0.6100 255.0 3031.5)" font-size="56" font-weight="bold" font-style="italic" text-anchor="start" textLength="328" lengthAdjust="spacingAndGlyphs">Gel content/%</text>
<text transform="matrix(0.8480 -0.5300 0.6400 0.7800 1364.0 3197.0)" font-weight="bold" font-style="normal"><tspan x="-52.6" y="7.2" font-size="58">σ</tspan><tspan x="-9.9" y="38.9" font-size="50">3</tspan><tspan x="0.0" y="0.0" font-size="54" textLength="125" lengthAdjust="spacingAndGlyphs">/kPa</tspan></text>
<polyline points="330.0,2112.6 330.6,2112.5 331.1,2112.5 331.6,2112.4 332.2,2112.3 332.9,2112.2 333.7,2112.1 334.7,2112.0 336.0,2111.9 337.5,2111.8 339.5,2111.6 341.8,2111.5 344.5,2111.3 347.8,2111.1 351.5,2110.9 355.8,2110.7 360.3,2110.4 365.2,2110.1 370.3,2109.9 375.6,2109.6 380.9,2109.4 386.3,2109.1 391.5,2108.9 396.7,2108.7 401.6,2108.6 406.4,2108.5 411.2,2108.4 416.0,2108.3 420.9,2108.3 425.7,2108.3 430.5,2108.2 435.4,2108.2 440.2,2108.3 445.1,2108.3 450.0,2108.4 454.8,2108.5 459.7,2108.6 464.6,2108.7 469.5,2108.9 474.5,2109.0 479.4,2109.2 484.4,2109.4 489.3,2109.6 494.3,2109.8 499.2,2110.1 504.1,2110.4 509.0,2110.8 513.9,2111.2 518.7,2111.7 523.5,2112.3 528.2,2112.9 532.9,2113.5 537.6,2114.3 542.3,2115.0 546.9,2115.8 551.6,2116.6 556.2,2117.5 560.8,2118.4 565.5,2119.2 570.1,2120.1 574.8,2121.0 579.5,2121.9 584.2,2122.8 588.8,2123.6 593.5,2124.6 598.2,2125.5 602.9,2126.4 607.6,2127.4 612.3,2128.4 616.9,2129.4 621.6,2130.4 626.3,2131.5 630.9,2132.6 635.5,2133.7 640.2,2134.9 644.8,2136.1 649.4,2137.4 654.0,2138.6 658.6,2139.9 663.2,2141.2 667.7,2142.6 672.3,2143.9 676.9,2145.3 681.4,2146.6 686.0,2148.0 690.5,2149.4 695.1,2150.7 699.6,2152.1 704.1,2153.5 708.6,2154.9 713.2,2156.4 717.7,2157.8 722.2,2159.3 726.7,2160.8 731.2,2162.3 735.7,2163.9 740.2,2165.5 744.7,2167.1 749.3,2168.8 753.8,2170.5 758.4,2172.2 763.0,2174.0 767.5,2175.8 772.1,2177.6 776.6,2179.4 781.1,2181.3 785.6,2183.2 790.1,2185.1 794.5,2187.0 798.9,2189.0 803.2,2191.0 807.6,2193.0 811.9,2195.1 816.1,2197.1 820.4,2199.2 824.7,2201.4 828.9,2203.5 833.1,2205.7 837.3,2207.8 841.6,2210.0 845.8,2212.2 850.0,2214.4 854.2,2216.6 858.4,2218.8 862.6,2221.1 866.8,2223.4 871.0,2225.6 875.1,2227.9 879.3,2230.2 883.5,2232.5 887.6,2234.8 891.8,2237.0 896.0,2239.3 900.2,2241.5 904.4,2243.8 908.7,2246.0 912.9,2248.2 917.2,2250.4 921.4,2252.6 925.7,2254.8 929.9,2257.1 934.1,2259.4 938.2,2261.7 942.3,2264.0 946.4,2266.4 950.4,2268.8 954.4,2271.3 958.3,2273.9 962.2,2276.4 966.0,2279.0 969.8,2281.6 973.7,2284.2 977.5,2286.9 981.3,2289.5 985.1,2292.1 988.9,2294.8 992.8,2297.4 996.7,2300.0 1000.6,2302.6 1004.4,2305.2 1008.3,2307.9 1012.2,2310.5 1016.1,2313.1 1020.0,2315.8 1023.9,2318.4 1027.7,2321.1 1031.6,2323.8 1035.5,2326.5 1039.3,2329.3 1043.1,2332.1 1047.0,2334.9 1050.8,2337.7 1054.7,2340.6 1058.5,2343.5 1062.3,2346.4 1066.1,2349.3 1069.9,2352.2 1073.7,2355.2 1077.4,2358.1 1081.1,2361.1 1084.8,2364.0 1088.4,2366.9 1092.1,2369.9 1095.6,2372.8 1099.2,2375.8 1102.7,2378.8 1106.2,2381.8 1109.7,2384.7 1113.2,2387.8 1116.7,2390.8 1120.2,2393.8 1123.8,2396.9 1127.3,2400.0 1130.9,2403.1 1134.4,2406.3 1138.0,2409.4 1141.6,2412.6 1145.1,2415.8 1148.7,2419.1 1152.3,2422.3 1155.8,2425.6 1159.4,2428.8 1163.0,2432.1 1166.5,2435.3 1170.0,2438.6 1173.5,2441.9 1177.0,2445.1 1180.5,2448.4 1184.0,2451.7 1187.5,2455.0 1191.0,2458.3 1194.5,2461.6 1197.9,2464.9 1201.4,2468.2 1204.8,2471.6 1208.2,2474.9 1211.5,2478.3 1214.8,2481.7 1218.1,2485.1 1221.4,2488.5 1224.6,2491.9 1227.8,2495.4 1231.0,2498.9 1234.2,2502.3 1237.4,2505.8 1240.6,2509.3 1243.7,2512.9 1246.9,2516.4 1250.0,2520.0 1253.1,2523.6 1256.3,2527.3 1259.4,2530.9 1262.5,2534.6 1265.6,2538.3 1268.6,2542.1 1271.7,2545.8 1274.7,2549.6 1277.8,2553.3 1280.8,2557.1 1283.7,2560.8 1286.7,2564.5 1289.6,2568.2 1292.6,2571.9 1295.5,2575.6 1298.4,2579.3 1301.2,2582.9 1304.1,2586.6 1306.9,2590.3 1309.7,2594.0 1312.5,2597.7 1315.2,2601.5 1317.9,2605.2 1320.6,2609.0 1323.2,2612.8 1325.8,2616.6 1328.4,2620.4 1330.9,2624.3 1333.4,2628.1 1335.8,2632.0 1338.3,2635.9 1340.7,2639.8 1343.2,2643.7 1345.6,2647.6 1348.1,2651.5 1350.6,2655.4 1353.1,2659.4 1355.7,2663.4 1358.4,2667.5 1361.1,2671.7 1363.7,2675.8 1366.4,2679.9 1369.0,2684.0 1371.5,2688.0 1374.0,2691.9 1376.3,2695.7 1378.5,2699.3 1380.6,2702.8 1382.5,2706.1 1384.4,2709.4 1386.1,2712.5 1387.8,2715.6 1389.3,2718.6 1390.8,2721.5 1392.2,2724.2 1393.5,2726.9 1394.7,2729.4 1395.9,2731.7 1397.0,2734.0 1398.0,2736.0 1398.9,2737.9 1399.7,2739.6 1400.4,2741.2 1401.1,2742.6 1401.6,2743.9 1402.1,2745.1 1402.5,2746.1 1402.9,2747.1 1403.2,2747.9 1403.5,2748.7 1403.7,2749.4 1404.0,2750.0" fill="none" stroke="#00ffff" stroke-width="4.6" stroke-dasharray="29.5 27.7" stroke-dashoffset="0"/>
<polygon points="1402,2755 1423.5,2757 1441.7,2839.5" fill="#00ffff"/>
<ellipse cx="331" cy="2158.4" rx="39" ry="42.3" fill="none" stroke="#ff00ff" stroke-width="4.4"/>
<ellipse cx="328.8" cy="2163.2" rx="14.9" ry="10.8" fill="#0000ff"/>
<ellipse cx="1429.5" cy="2879.5" rx="38.5" ry="42.7" fill="none" stroke="#ff00ff" stroke-width="4.4"/>
<ellipse cx="1429.2" cy="2893.8" rx="14.9" ry="11.6" fill="#0000ff"/>
<text transform="matrix(1.0000 0.0000 0.0000 1.0000 252.5 2103.5)" font-size="62" font-weight="normal" font-style="normal" text-anchor="start" textLength="145" lengthAdjust="spacingAndGlyphs">4.247</text>
<text transform="matrix(0.9542 0.2990 -0.2990 0.9542 582.0 2107.5)" font-size="62" font-weight="normal" font-style="normal" text-anchor="start" textLength="258" lengthAdjust="spacingAndGlyphs">softening</text>
<text transform="matrix(1.0000 0.0000 0.0000 1.0000 1239.5 2899.0)" font-size="62" font-weight="normal" font-style="normal" text-anchor="start" textLength="139" lengthAdjust="spacingAndGlyphs">0.042</text>
<text transform="matrix(0.5045 0.8634 -0.8634 0.5045 1303.0 2540.0)" font-size="62" font-weight="normal" font-style="normal" text-anchor="start" textLength="237" lengthAdjust="spacingAndGlyphs">hardening</text>
<text transform="matrix(1.0000 0.0000 0.0000 1.0000 0.0 0.0)" font-weight="normal" font-style="normal"><tspan x="817.5" y="3443.0" font-size="85.3" font-weight="normal">(</tspan><tspan x="845.3" y="3443.4" font-size="91" font-weight="bold" textLength="48.5" lengthAdjust="spacingAndGlyphs">b</tspan><tspan x="895.0" y="3443.0" font-size="85.3" font-weight="normal">)</tspan></text>
</svg>
</body></html>
